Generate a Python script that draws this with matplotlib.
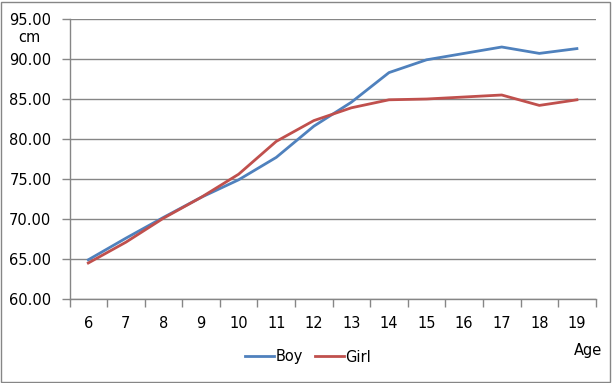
import matplotlib
matplotlib.use("Agg")
import matplotlib.pyplot as plt
from matplotlib.patches import Rectangle
from matplotlib.lines import Line2D

ages = [6, 7, 8, 9, 10, 11, 12, 13, 14, 15, 16, 17, 18, 19]
boy = [64.9, 67.6, 70.2, 72.7, 74.9, 77.7, 81.6, 84.6, 88.3, 89.9, 90.7, 91.5, 90.7, 91.3]
girl = [64.5, 67.1, 70.1, 72.7, 75.6, 79.7, 82.3, 83.9, 84.9, 85.0, 85.25, 85.5, 84.2, 84.9]
yticks = [60, 65, 70, 75, 80, 85, 90, 95]

W, H = 612, 383
fig = plt.figure(figsize=(W / 100, H / 100), dpi=100)
fig.patch.set_facecolor("white")

left, right, top, bottom = 69.5, 595.7, 19, 299
ax = fig.add_axes([left / W, 1 - bottom / H, (right - left) / W, (bottom - top) / H])

grid_c = "#868686"
x = list(range(len(ages)))
ax.plot(x, boy, color="#4F81BD", lw=2.0, solid_joinstyle="round", zorder=3)
ax.plot(x, girl, color="#C0504D", lw=2.0, solid_joinstyle="round", zorder=3)

ax.set_xlim(-0.5, len(ages) - 0.5)
ax.set_ylim(60, 95)
ax.set_yticks(yticks)
ax.set_yticklabels([f"{v:.2f}" for v in yticks])
ax.yaxis.grid(True, color=grid_c, lw=1.0)
ax.set_axisbelow(True)

# x ticks: marks between categories, labels at categories
ax.set_xticks([i - 0.5 for i in range(len(ages) + 1)])
ax.set_xticklabels([])
ax.set_xticks(x, minor=True)
ax.set_xticklabels([str(a) for a in ages], minor=True)
ax.tick_params(axis="x", which="major", length=6, color=grid_c, width=1.0)
ax.tick_params(axis="x", which="minor", length=0, pad=12, labelsize=10.5)
ax.tick_params(axis="y", length=6, color=grid_c, width=1.0, pad=7, labelsize=10.5)

for s in ["top", "right"]:
    ax.spines[s].set_visible(False)
for s in ["left", "bottom"]:
    ax.spines[s].set_color(grid_c)
    ax.spines[s].set_linewidth(1.0)

fig.text(29 / W, 1 - 38 / H, "cm", ha="center", va="center", fontsize=10.5)
fig.text(588 / W, 1 - 350 / H, "Age", ha="center", va="center", fontsize=10.5)

handles = [Line2D([], [], color="#4F81BD", lw=2.0), Line2D([], [], color="#C0504D", lw=2.0)]
fig.legend(handles, ["Boy", "Girl"], loc="center", bbox_to_anchor=(308 / W, 1 - 357 / H),
           ncol=2, frameon=False, fontsize=10.5, handlelength=2.0, handletextpad=0.1,
           columnspacing=0.8)

fig.add_artist(Rectangle((1 / W, 1 / H), (W - 3) / W, (H - 3) / H,
                         transform=fig.transFigure, fill=False, edgecolor=grid_c, lw=1.0))

fig.savefig("out.png", dpi=100)
